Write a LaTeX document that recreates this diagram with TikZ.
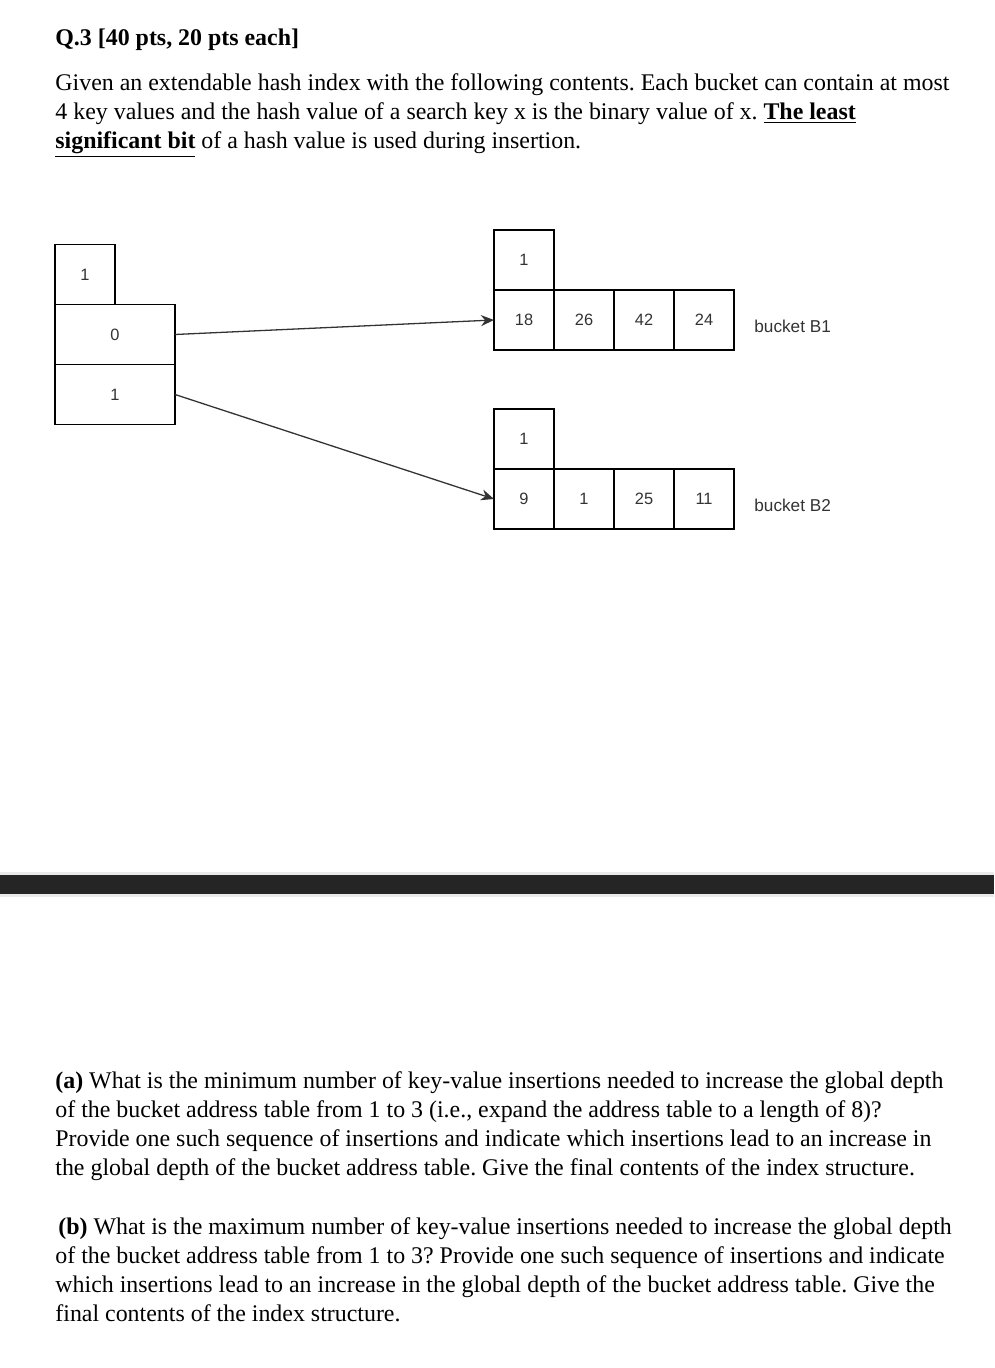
\documentclass[tikz,border=0pt]{standalone}
\usepackage{fontspec}
\setmainfont{Liberation Serif}
\newfontfamily\diagfont{Liberation Sans}
\usetikzlibrary{arrows.meta,positioning}
\definecolor{inkgrey}{RGB}{51,51,51}
\definecolor{bardark}{RGB}{37,37,37}
\definecolor{barlight}{RGB}{234,234,234}
\frenchspacing

\begin{document}
\begin{tikzpicture}[x=0.5pt, y=-0.5pt,
    cellbox/.style={rectangle, draw=black, line width=0.6pt,
        minimum width=30pt, minimum height=30pt, inner sep=0pt, outer sep=0pt,
        font=\diagfont\fontsize{8.2}{9}\selectfont, text=inkgrey},
    dirbox/.style={cellbox, minimum width=60pt},
    bucketlabel/.style={font=\diagfont\fontsize{8.6}{10}\selectfont, text=inkgrey, inner sep=0pt},
    qline/.style={anchor=base west, inner sep=0pt, font=\fontsize{11.95}{13}\selectfont},
    pointer/.style={->, draw=inkgrey, line width=0.65pt},
    >={Stealth[length=6.5pt,width=5.5pt]}
]
\useasboundingbox (0,0) rectangle (994,1368);

% question text
\node[qline, font=\fontsize{11.95}{13}\selectfont\bfseries] (qtitle) at (55,46) {Q.3 [40 pts, 20 pts each]};
\node[qline] (intro1) at (55,90.5) {Given an extendable hash index with the following contents. Each bucket can contain at most};
\node[qline] (intro2) at (55,119.5) {4 key values and the hash value of a search key x is the binary value of x. \textbf{\underline{The least}}};
\node[qline] (intro3) at (55,148.5) {\textbf{\underline{significant bit}} of a hash value is used during insertion.};

% bucket address table
\node[cellbox] (gdepth) at (85,274.5) {1};
\node[dirbox, anchor=north west] (dir0) at (gdepth.south west) {0};
\node[dirbox, below=0pt of dir0] (dir1) {1};

% bucket B1
\node[cellbox] (b1depth) at (524,260) {1};
\node[cellbox, below=0pt of b1depth] (b1k1) {18};
\node[cellbox, right=0pt of b1k1] (b1k2) {26};
\node[cellbox, right=0pt of b1k2] (b1k3) {42};
\node[cellbox, right=0pt of b1k3] (b1k4) {24};
\node[bucketlabel, right=10pt of b1k4, anchor=west, yshift=-3pt] (b1name) {bucket B1};

% bucket B2
\node[cellbox] (b2depth) at (524,439) {1};
\node[cellbox, below=0pt of b2depth] (b2k1) {9};
\node[cellbox, right=0pt of b2k1] (b2k2) {1};
\node[cellbox, right=0pt of b2k2] (b2k3) {25};
\node[cellbox, right=0pt of b2k3] (b2k4) {11};
\node[bucketlabel, right=10pt of b2k4, anchor=west, yshift=-3pt] (b2name) {bucket B2};

\draw[pointer] (dir0.east) -- (b1k1.west);
\draw[pointer] (dir1.east) -- (b2k1.west);

% page divider
\fill[barlight] (0,872) rectangle (994,897);
\fill[bardark] (0,875) rectangle (994,894);

% parts (a) and (b)
\node[qline] (parta1) at (55,1088) {\textbf{(a)} What is the minimum number of key-value insertions needed to increase the global depth};
\node[qline] (parta2) at (55,1117) {of the bucket address table from 1 to 3 (i.e., expand the address table to a length of 8)?};
\node[qline] (parta3) at (55,1146.5) {Provide one such sequence of insertions and indicate which insertions lead to an increase in};
\node[qline] (parta4) at (55,1175.5) {the global depth of the bucket address table. Give the final contents of the index structure.};
\node[qline] (partb1) at (58,1234) {\textbf{(b)} What is the maximum number of key-value insertions needed to increase the global depth};
\node[qline] (partb2) at (55,1263) {of the bucket address table from 1 to 3? Provide one such sequence of insertions and indicate};
\node[qline] (partb3) at (55,1292.5) {which insertions lead to an increase in the global depth of the bucket address table. Give the};
\node[qline] (partb4) at (55,1321.5) {final contents of the index structure.};
\end{tikzpicture}
\end{document}
